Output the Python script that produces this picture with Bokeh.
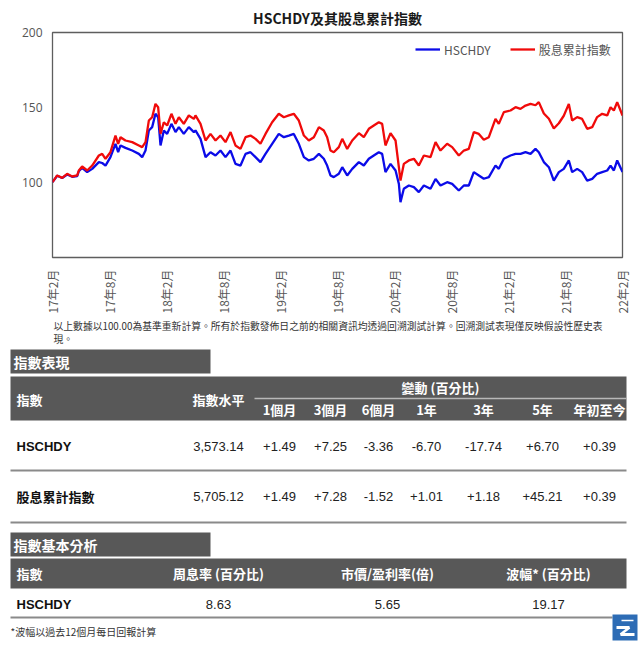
import math
from bokeh.plotting import figure
from bokeh.models import Range1d, FixedTicker, Legend, LegendItem
from bokeh.layouts import column
from bokeh.embed import file_html
from bokeh.resources import INLINE
from bokeh.core.properties import value

# ---------------- data ----------------
months = [0, 0.49, 1.02, 1.54, 2.07, 2.6, 2.77, 3.12, 3.65, 4.18, 4.88, 5.23, 5.58, 6.1, 6.63, 6.91,
          7.16, 7.68, 8.39, 9.09, 9.44, 9.79, 10.14, 10.49, 10.84, 11.12, 11.37, 11.72, 12.07, 12.52,
          12.95, 13.3, 13.82, 14.35, 14.88, 15.05, 15.58, 16.11, 16.63, 17.16, 17.68, 18.21, 18.74,
          19.26, 19.79, 20.32, 20.84, 21.37, 21.89, 22.42, 23.12, 23.82, 24.35, 24.88, 25.4, 25.93,
          26.46, 26.98, 27.51, 28.04, 28.56, 28.91, 29.26, 29.61, 30.14, 30.5, 31.02, 31.55, 32.25,
          32.77, 33.3, 33.82, 34.35, 34.7, 35.05, 35.58, 36.11, 36.46, 36.63, 36.98, 37.51, 38.04,
          38.56, 39.09, 39.79, 40.32, 40.84, 41.54, 42.07, 42.77, 43.3, 43.82, 44.35, 44.88, 45.4,
          45.93, 46.63, 46.98, 47.51, 48.21, 48.74, 49.26, 49.79, 50.32, 50.84, 51.19, 51.72, 52.25,
          52.77, 53.3, 53.82, 54.35, 54.7, 55.23, 55.75, 56.28, 56.81, 57.33, 57.86, 58.39, 58.74,
          59.09, 59.44, 60]
dividend_index = [100.2, 104.7, 103.1, 105.8, 104.0, 104.7, 108.0, 110.7, 108.0, 111.3, 118.0, 119.1,
                  115.8, 120.2, 131.3, 125.8, 130.2, 128.0, 126.9, 124.7, 123.6, 126.9, 141.3, 143.5,
                  152.4, 150.2, 132.4, 140.2, 138.0, 145.8, 139.1, 143.5, 139.1, 144.7, 142.4, 144.7,
                  139.1, 128.0, 132.4, 128.0, 131.3, 126.9, 133.6, 124.7, 122.4, 130.2, 131.3, 129.1,
                  125.8, 132.4, 140.2, 145.8, 143.5, 144.7, 145.8, 141.3, 131.3, 128.0, 130.2, 136.9,
                  134.7, 130.2, 121.3, 120.2, 123.6, 129.1, 122.4, 128.0, 132.9, 130.2, 135.8, 138.0,
                  140.2, 139.1, 124.7, 132.9, 128.0, 110.2, 101.3, 112.4, 114.7, 115.8, 111.3, 118.0,
                  116.9, 126.9, 121.3, 125.8, 123.6, 118.0, 121.3, 122.4, 133.6, 132.4, 128.5, 130.2,
                  142.4, 139.1, 146.9, 148.0, 150.2, 149.1, 151.3, 152.4, 151.5, 153.6, 146.0, 142.5,
                  136.0, 139.5, 144.5, 152.4, 141.3, 143.6, 142.4, 135.8, 136.9, 143.6, 145.8, 144.7,
                  150.2, 148.0, 153.6, 144.7]
hschdy = [100.2, 104.5, 103.0, 105.3, 103.8, 104.2, 107.5, 109.8, 106.9, 109.1, 113.6, 113.0,
          111.3, 116.9, 125.8, 120.2, 124.7, 123.1, 121.3, 119.1, 116.9, 121.3, 134.7, 136.9,
          145.8, 143.5, 124.7, 134.7, 132.4, 139.1, 133.6, 136.9, 132.4, 136.9, 133.6, 134.7,
          129.1, 116.9, 120.2, 118.0, 121.3, 116.9, 121.3, 112.4, 111.3, 119.1, 120.2, 116.9,
          113.6, 119.1, 125.8, 132.4, 130.2, 131.3, 132.4, 125.8, 116.9, 114.7, 115.8, 119.1,
          115.8, 111.3, 104.7, 103.6, 105.8, 110.2, 104.7, 109.1, 113.6, 111.3, 115.8, 118.0,
          120.2, 119.1, 106.9, 112.4, 108.0, 99.1, 86.9, 95.8, 98.0, 96.9, 93.6, 98.0,
          95.8, 102.4, 98.0, 100.2, 99.1, 94.7, 98.0, 98.0, 106.9, 104.7, 102.5, 103.6,
          111.3, 109.1, 115.8, 118.0, 119.1, 119.1, 120.2, 119.1, 122.4, 120.2, 113.6, 110.2,
          101.3, 106.9, 109.1, 114.7, 106.9, 109.1, 106.9, 101.3, 102.4, 105.8, 106.9, 108.0,
          111.3, 108.0, 114.7, 107.0]
tick_months = [0, 6, 12, 18, 24, 30, 36, 42, 48, 54, 60]
tick_labels = ["17年2月", "17年8月", "18年2月", "18年8月", "19年2月", "19年8月",
               "20年2月", "20年8月", "21年2月", "21年8月", "22年2月"]
y_ticks = [100, 150, 200]
series_names = ["HSCHDY", "股息累計指數"]
chart_title = "HSCHDY及其股息累計指數"

caption_lines = ["以上數據以100.00為基準重新計算。所有於指數發佈日之前的相關資訊均透過回溯測試計算。回溯測試表現僅反映假設性歷史表",
                 "現。"]
perf_title = "指數表現"
perf_rows = ["HSCHDY", "股息累計指數"]
perf_levels = ["3,573.14", "5,705.12"]
periods = ["1個月", "3個月", "6個月", "1年", "3年", "5年", "年初至今"]
hschdy_chg = ["+1.49", "+7.25", "-3.36", "-6.70", "-17.74", "+6.70", "+0.39"]
dividend_chg = ["+1.49", "+7.28", "-1.52", "+1.01", "+1.18", "+45.21", "+0.39"]
fund_title = "指數基本分析"
fund_headers = ["周息率 (百分比)", "市價/盈利率(倍)", "波幅* (百分比)"]
fund_values = ["8.63", "5.65", "19.17"]
footnote = "*波幅以過去12個月每日回報計算"

CJK = "Noto Sans CJK TC"
LAT = "Liberation Sans"

# ---------------- chart ----------------
p = figure(width=640, height=318, x_range=Range1d(0, 60), y_range=Range1d(50, 200),
           output_backend="svg", toolbar_location=None,
           min_border_left=52, min_border_right=18, min_border_top=32, min_border_bottom=61)
p.frame_align = False
p.title.text = chart_title
p.title.align = "center"
p.title.text_font = CJK
p.title.text_font_size = "14px"
p.title.text_font_style = "bold"
p.title.text_color = "#1a1a1a"
p.title.standoff = 9
p.outline_line_color = "#5e5e5e"
p.outline_line_width = 1.3
p.xgrid.visible = False
p.ygrid.visible = False
p.background_fill_color = "white"
p.border_fill_color = "white"

p.yaxis.ticker = FixedTicker(ticks=y_ticks)
p.yaxis.axis_line_color = None
p.yaxis.major_tick_line_color = None
p.yaxis.minor_tick_line_color = None
p.yaxis.major_tick_out = 0
p.yaxis.major_tick_in = 0
p.yaxis.minor_tick_out = 0
p.yaxis.major_label_text_color = "#555555"
p.yaxis.major_label_text_font = "Open Sans"
p.yaxis.major_label_text_font_size = "12px"
p.yaxis.major_label_standoff = 10

p.xaxis.ticker = FixedTicker(ticks=tick_months)
p.xaxis.major_label_overrides = dict(zip(tick_months, tick_labels))
p.xaxis.axis_line_color = None
p.xaxis.major_tick_line_color = None
p.xaxis.minor_tick_line_color = None
p.xaxis.major_tick_out = 0
p.xaxis.major_tick_in = 0
p.xaxis.minor_tick_out = 0
p.xaxis.major_label_orientation = math.pi / 2
p.xaxis.major_label_text_color = "#555555"
p.xaxis.major_label_text_font = CJK
p.xaxis.major_label_text_font_size = "12px"
p.xaxis.major_label_standoff = 12

r1 = p.line(months, hschdy, line_color="#0b0be8", line_width=2.3)
r2 = p.line(months, dividend_index, line_color="#f00a0a", line_width=2.3)

legend = Legend(items=[LegendItem(label=series_names[0], renderers=[r1]),
                       LegendItem(label=series_names[1], renderers=[r2])],
                orientation="horizontal", location=(363, 198), padding=0, margin=0,
                spacing=19, glyph_width=25, glyph_height=20, label_height=20,
                label_standoff=4, border_line_color=None, background_fill_alpha=0,
                label_text_font=CJK, label_text_font_size="12px", label_text_color="#555555")
p.add_layout(legend)

# ---------------- tables (page coordinates) ----------------
t = figure(width=640, height=327, x_range=Range1d(0, 640), y_range=Range1d(645, 318),
           output_backend="svg", toolbar_location=None, min_border=0,
           x_axis_location=None, y_axis_location=None)
t.frame_align = False
t.grid.visible = False
t.outline_line_color = None
t.background_fill_color = "white"
t.border_fill_color = "white"

def txt(xs, ys, texts, font, size, color="#222222", align="center", style="normal"):
    t.text(x=xs, y=ys, text=texts, text_font=value(font), text_font_size=value(size),
           text_color=color, text_align=align, text_baseline="middle", text_font_style=style)

GRAY = "#585858"
# caption
txt([53, 53], [325, 338], caption_lines, CJK, "9.8px", color="#333333", align="left")

# performance table
t.quad(left=[10], right=[210], top=[349], bottom=[373], fill_color=GRAY, line_color=None)
txt([13], [361], [perf_title], CJK, "14px", color="white", align="left", style="bold")
t.quad(left=[10], right=[626], top=[376], bottom=[420], fill_color=GRAY, line_color=None)
t.segment(x0=[254], y0=[398], x1=[626], y1=[398], line_color="#b8b8b8", line_width=1.5)
txt([16], [399], ["指數"], CJK, "13px", color="white", align="left", style="bold")
txt([218], [399], ["指數水平"], CJK, "13px", color="white", style="bold")
txt([440], [387], ["變動 (百分比)"], CJK, "13px", color="white", style="bold")
period_x = [279, 330, 378, 426, 483, 542, 599]
txt(period_x, [409] * 7, periods, CJK, "13px", color="white", style="bold")

row_y = [446, 496]
txt([16], [row_y[0]], [perf_rows[0]], LAT, "13px", color="#111111", align="left", style="bold")
txt([16], [row_y[1]], [perf_rows[1]], CJK, "13px", color="#111111", align="left", style="bold")
txt([218, 218], row_y, perf_levels, LAT, "13px")
txt(period_x, [row_y[0]] * 7, hschdy_chg, LAT, "13px")
txt(period_x, [row_y[1]] * 7, dividend_chg, LAT, "13px")
t.segment(x0=[10, 10], y0=[470, 522], x1=[626, 626], y1=[470, 522], line_color="#8a8a8a", line_width=2)

# fundamentals table
t.quad(left=[10], right=[210], top=[532], bottom=[556], fill_color=GRAY, line_color=None)
txt([13], [544], [fund_title], CJK, "14px", color="white", align="left", style="bold")
t.quad(left=[10], right=[626], top=[558], bottom=[588], fill_color=GRAY, line_color=None)
fund_x = [218, 387, 548]
txt([16], [573], ["指數"], CJK, "13px", color="white", align="left", style="bold")
txt(fund_x, [573] * 3, fund_headers, CJK, "13px", color="white", style="bold")
txt([16], [604], ["HSCHDY"], LAT, "13px", color="#111111", align="left", style="bold")
txt(fund_x, [604] * 3, fund_values, LAT, "13px")
t.segment(x0=[10], y0=[617], x1=[612], y1=[617], line_color="#8a8a8a", line_width=2)
txt([10], [631], [footnote], CJK, "10px", color="#333333", align="left")

# logo
t.quad(left=[612], right=[637], top=[614], bottom=[640], fill_color="#2d6cb5", line_color=None)
t.segment(x0=[621, 616, 620], y0=[620, 627, 634], x1=[633, 629, 634], y1=[620, 627, 634],
          line_color="white", line_width=[1.5, 3, 3])
t.segment(x0=[629], y0=[627], x1=[620], y1=[634], line_color="white", line_width=2.5)

layout = column(p, t, spacing=0)
open("out.html", "w").write(file_html(layout, INLINE))
